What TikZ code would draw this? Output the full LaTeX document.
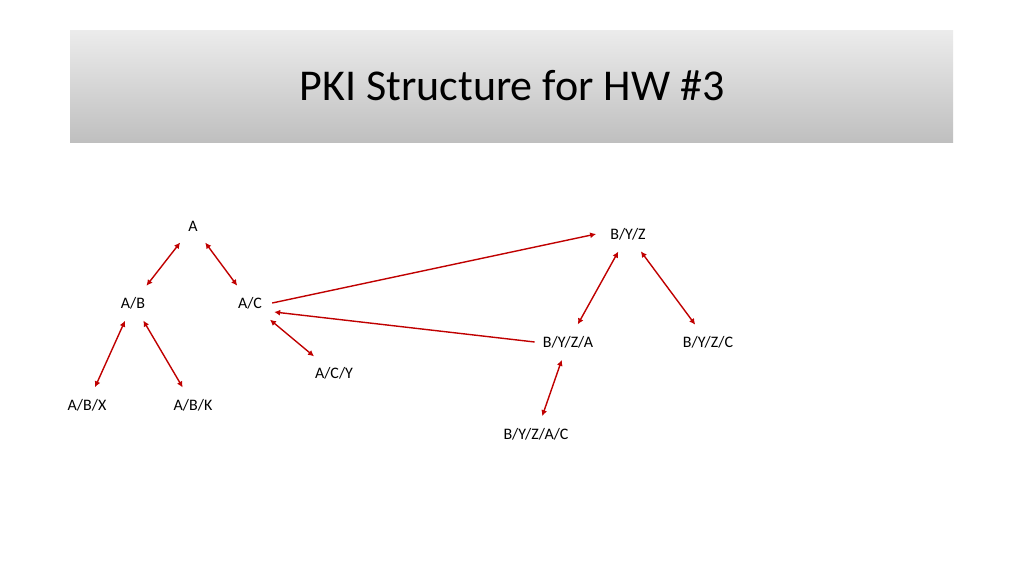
\documentclass[tikz,border=0pt]{standalone}
\usepackage{fontspec}
\setmainfont{Carlito}
\usetikzlibrary{arrows.meta}
\definecolor{arr}{HTML}{C00000}
\begin{document}
\begin{tikzpicture}[x=1pt,y=-1pt,
  lbl/.style={font=\fontsize{16}{19}\selectfont,inner sep=8pt},
  link/.style={arr,line width=1.4pt,shorten <=4pt,shorten >=4pt,{Latex[length=6pt,width=6pt]}-{Latex[length=6pt,width=6pt]}},
  one/.style={arr,line width=1.4pt,-{Latex[length=6pt,width=6pt]}}]
\useasboundingbox (0,0) rectangle (1024,576);
\fill[white] (0,0) rectangle (1024,576);
\shade[top color=gray!15,bottom color=gray!50] (70,30) rectangle (953,142);
\node (title) at (512,86) {\fontsize{44}{50}\selectfont PKI Structure for HW \#3};
\node[lbl] (a) at (193,226) {A};
\node[lbl] (ab) at (133,303) {A/B};
\node[lbl] (ac) at (250,303) {A/C};
\node[lbl] (abx) at (87,405) {A/B/X};
\node[lbl] (abk) at (193,405) {A/B/K};
\node[lbl] (acy) at (334,373) {A/C/Y};
\node[lbl] (byz) at (628,234) {B/Y/Z};
\node[lbl] (byza) at (568,342) {B/Y/Z/A};
\node[lbl] (byzc) at (708,342) {B/Y/Z/C};
\node[lbl] (byzac) at (536,434) {B/Y/Z/A/C};
\draw[link] (a) -- (ab);
\draw[link] (a) -- (ac);
\draw[link] (ab) -- (abx);
\draw[link] (ab) -- (abk);
\draw[link] (ac) -- (acy);
\draw[one] ([xshift=2pt]ac.east) -- ([xshift=-6pt]byz.west);
\draw[one] (byza.west) -- ([shift={(4pt,-9pt)}]ac.east);
\draw[link] (byz) -- (byza);
\draw[link] (byz) -- (byzc);
\draw[link] (byza) -- (byzac);
\end{tikzpicture}
\end{document}
